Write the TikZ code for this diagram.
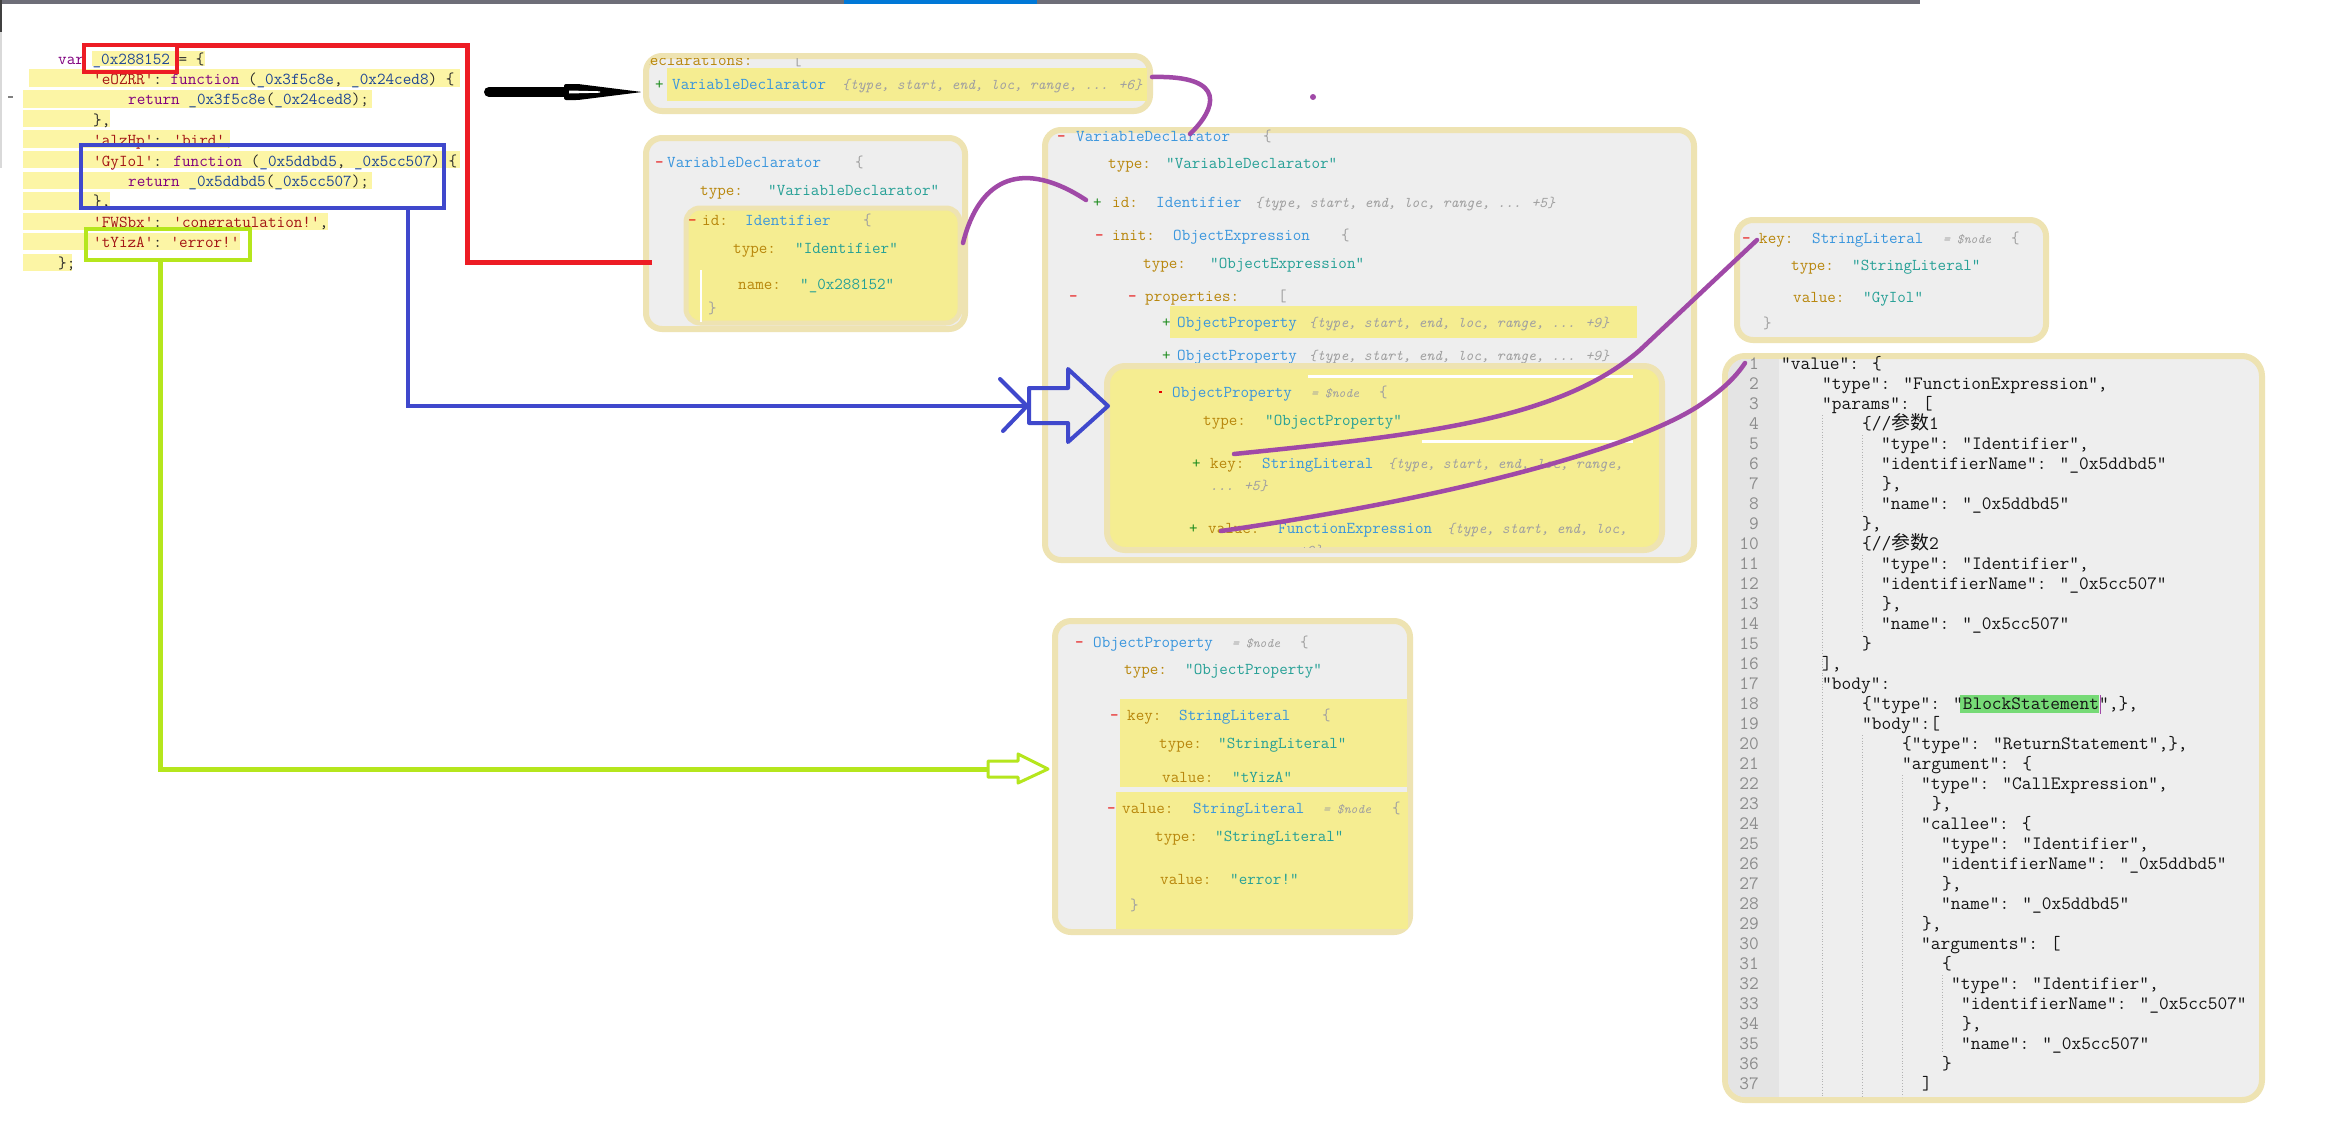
\documentclass[tikz,border=0pt]{standalone}
\usepackage{fontspec}
\setmainfont{Liberation Sans}
\newcommand\cf{\ttfamily}
\newfontfamily\cjk{Noto Sans CJK SC}
\usetikzlibrary{calc}
\definecolor{khaki}{RGB}{238,227,178}
\definecolor{boxg}{RGB}{238,238,238}
\definecolor{hly}{RGB}{245,237,145}
\definecolor{hlc}{RGB}{252,245,165}
\definecolor{goldk}{RGB}{184,134,11}
\definecolor{bluet}{RGB}{58,150,221}
\definecolor{tealt}{RGB}{38,160,150}
\definecolor{grayt}{RGB}{160,160,160}
\definecolor{redm}{RGB}{230,0,0}
\definecolor{greenp}{RGB}{30,140,30}
\definecolor{kwc}{RGB}{128,0,128}
\definecolor{idc}{RGB}{30,70,150}
\definecolor{strc}{RGB}{163,21,21}
\definecolor{punc}{RGB}{40,40,40}
\definecolor{redl}{RGB}{237,28,36}
\definecolor{bluel}{RGB}{63,72,204}
\definecolor{greenl}{RGB}{181,230,29}
\definecolor{purl}{RGB}{160,73,167}
\definecolor{gutter}{RGB}{228,228,228}
\definecolor{lnumc}{RGB}{140,140,140}
\definecolor{bsg}{RGB}{118,218,118}
\definecolor{topbar}{RGB}{110,110,120}
\definecolor{topblue}{RGB}{0,120,215}
\definecolor{codec}{RGB}{20,20,20}
\newcounter{tn}
\newcommand\kw[1]{\textcolor{kwc}{#1}}
\newcommand\idn[1]{\textcolor{idc}{#1}}
\newcommand\strg[1]{\textcolor{strc}{#1}}
\newcommand\tx[5]{\stepcounter{tn}\node[#1,text=#2] (t\arabic{tn}) at ({#3},{#4}) {#5};}
\newcommand\rl[3]{\tx{rcode}{codec}{#2}{369+20*(#1-1)}{#3}\tx{lnum}{lnumc}{1759}{369+20*(#1-1)}{#1}}
\tikzset{
 ast/.style={anchor=base west, inner sep=0pt, font=\fontsize{16.6}{19}\selectfont\cf},
 ita/.style={anchor=base west, inner sep=0pt, font=\fontsize{14.9}{17}\selectfont\cf\itshape},
 sml/.style={anchor=base west, inner sep=0pt, font=\fontsize{13.1}{15}\selectfont\cf\itshape},
 lcode/.style={anchor=base west, inner sep=0pt, font=\fontsize{16.7}{19}\selectfont\cf},
 rcode/.style={anchor=base west, inner sep=0pt, font=\fontsize{18.9}{21}\selectfont\cf},
 lnum/.style={anchor=base east, inner sep=0pt, font=\fontsize{18.9}{21}\selectfont\cf},
 graybox/.style={rectangle, rounded corners=16pt, fill=boxg, draw=khaki, line width=6pt, inner sep=0pt, outer sep=0pt},
 yelbox/.style={rectangle, rounded corners=14pt, fill=hly, draw=khaki, line width=5pt, inner sep=0pt, outer sep=0pt},
 markbox/.style={rectangle, inner sep=0pt, outer sep=0pt},
 purline/.style={purl, line width=4.5pt, line cap=round},
 guide/.style={black!30, line width=0.8pt, dotted}
}
\begin{document}
\begin{tikzpicture}[x=1pt,y=-1pt]
\useasboundingbox (0,0) rectangle (2333,1136);
\fill[white] (0,0) rectangle (2333,1136);
% top strip
\fill[topbar] (0,0) rectangle (1920,4);
\fill[topblue] (844,0) rectangle (1037,4);
\fill[black!75] (0,0) rectangle (2,32);
\draw[black!15, line width=1.5pt] (1,32) -- (1,168);
\draw[black!50, line width=1.5pt] (8,97) -- (13,97);

% ---------- left source code ----------
\foreach \a/\b/\c/\d in {92/51/205/66, 29/69/460/87, 23/90/372/108, 23/110/110/127, 23/130/230/148, 23/151/460/168, 23/172/372/189, 23/192/110/210, 23/213/328/230, 23/233/240/250, 23/254/72/271}
  \fill[hlc] (\a,\b) rectangle (\c,\d);
\tx{lcode}{punc}{58}{64}{\kw{var} \idn{\_0x288152} = \{}
\tx{lcode}{punc}{93}{84.4}{\strg{'eOZRR'}: \kw{function} (\idn{\_0x3f5c8e}, \idn{\_0x24ced8}) \{}
\tx{lcode}{punc}{128}{104.8}{\kw{return} \idn{\_0x3f5c8e}(\idn{\_0x24ced8});}
\tx{lcode}{punc}{93}{125.2}{\},}
\tx{lcode}{punc}{93}{145.6}{\strg{'alzHp'}: \strg{'bird'},}
\tx{lcode}{punc}{93}{166}{\strg{'GyIol'}: \kw{function} (\idn{\_0x5ddbd5}, \idn{\_0x5cc507}) \{}
\tx{lcode}{punc}{128}{186.4}{\kw{return} \idn{\_0x5ddbd5}(\idn{\_0x5cc507});}
\tx{lcode}{punc}{93}{206.8}{\},}
\tx{lcode}{punc}{93}{227.2}{\strg{'FWSbx'}: \strg{'congratulation!'},}
\tx{lcode}{punc}{93}{247.6}{\strg{'tYizA'}: \strg{'error!'}}
\tx{lcode}{punc}{58}{268}{\};}

\node[markbox, draw=redl, line width=4.5pt, minimum width=93pt, minimum height=27pt] (rbox) at (130.5,58.5) {};
\node[markbox, draw=bluel, line width=4pt, minimum width=363pt, minimum height=63pt] (bbox) at (262.5,176.5) {};
\node[markbox, draw=greenl, line width=4pt, minimum width=164pt, minimum height=31pt] (gbox) at (168,244.5) {};

% ---------- declarations box ----------
\node[graybox, minimum width=504pt, minimum height=55pt] (declbox) at (898,83.5) {};
\begin{scope}
\clip (649,58) rectangle (1147,108);
\tx{ast}{goldk}{641}{65}{declarations:}
\tx{ast}{grayt}{793}{65}{[}
\end{scope}
\fill[hly] (667,68) rectangle (1147,101);
\tx{ast}{greenp}{655}{89}{+}
\tx{ast}{bluet}{672}{89}{VariableDeclarator}
\tx{ita}{grayt}{842}{89}{\{type, start, end, loc, range, ... +6\}}

% ---------- VariableDeclarator (left) ----------
\node[graybox, minimum width=319pt, minimum height=191pt] (vdbox) at (805.5,233.5) {};
\tx{ast}{redm}{655}{167}{-}
\tx{ast}{bluet}{667}{167}{VariableDeclarator}
\tx{ast}{grayt}{855}{167}{\{}
\tx{ast}{goldk}{700}{195}{type:}
\tx{ast}{tealt}{768}{195}{"VariableDeclarator"}
\node[yelbox, minimum width=274pt, minimum height=115pt] (idbox) at (823,265.5) {};
\tx{ast}{redm}{688}{225}{-}
\tx{ast}{goldk}{702}{225}{id:}
\tx{ast}{bluet}{745}{225}{Identifier}
\tx{ast}{grayt}{863}{225}{\{}
\tx{ast}{goldk}{733}{253}{type:}
\tx{ast}{tealt}{795}{253}{"Identifier"}
\draw[white, line width=2.5pt] (701,270) -- (701,322);
\tx{ast}{goldk}{738}{289}{name:}
\tx{ast}{tealt}{800}{289}{"\_0x288152"}
\tx{ast}{grayt}{708}{313}{\}}

% ---------- main VariableDeclarator box ----------
\node[graybox, minimum width=649pt, minimum height=430pt] (mainbox) at (1369.5,345) {};
\tx{ast}{redm}{1057}{141}{-}
\tx{ast}{bluet}{1076}{141}{VariableDeclarator}
\tx{ast}{grayt}{1263}{141}{\{}
\tx{ast}{goldk}{1108}{168}{type:}
\tx{ast}{tealt}{1166}{168}{"VariableDeclarator"}
\tx{ast}{greenp}{1093}{207}{+}
\tx{ast}{goldk}{1112}{207}{id:}
\tx{ast}{bluet}{1156}{207}{Identifier}
\tx{ita}{grayt}{1255}{207}{\{type, start, end, loc, range, ... +5\}}
\tx{ast}{redm}{1095}{240}{-}
\tx{ast}{goldk}{1112}{240}{init:}
\tx{ast}{bluet}{1173}{240}{ObjectExpression}
\tx{ast}{grayt}{1341}{240}{\{}
\tx{ast}{goldk}{1143}{268}{type:}
\tx{ast}{tealt}{1210}{268}{"ObjectExpression"}
\tx{ast}{redm}{1069}{301}{-}
\tx{ast}{redm}{1128}{301}{-}
\tx{ast}{goldk}{1145}{301}{properties:}
\tx{ast}{grayt}{1278}{301}{[}
\fill[hly] (1170,306) rectangle (1637,338);
\tx{ast}{greenp}{1162}{327}{+}
\tx{ast}{bluet}{1177}{327}{ObjectProperty}
\tx{ita}{grayt}{1309}{327}{\{type, start, end, loc, range, ... +9\}}
\tx{ast}{greenp}{1162}{360}{+}
\tx{ast}{bluet}{1177}{360}{ObjectProperty}
\tx{ita}{grayt}{1309}{360}{\{type, start, end, loc, range, ... +9\}}
\node[yelbox, rounded corners=18pt, line width=6pt, minimum width=555pt, minimum height=184pt] (opbox) at (1384.5,458) {};
\draw[white, line width=3pt] (1308,376) -- (1633,376);
\draw[white, line width=3pt] (1422,441) -- (1633,441);
\fill[redm] (1159,391) rectangle (1162,393);
\tx{ast}{bluet}{1172}{397}{ObjectProperty}
\tx{sml}{grayt}{1311}{397}{= \$node}
\tx{ast}{grayt}{1379}{397}{\{}
\tx{ast}{goldk}{1203}{425}{type:}
\tx{ast}{tealt}{1265}{425}{"ObjectProperty"}
\tx{ast}{greenp}{1192}{468}{+}
\tx{ast}{goldk}{1210}{468}{key:}
\tx{ast}{bluet}{1262}{468}{StringLiteral}
\tx{ita}{grayt}{1388}{468}{\{type, start, end, loc, range,}
\tx{ita}{grayt}{1210}{490}{... +5\}}
\tx{ast}{greenp}{1189}{533}{+}
\tx{ast}{goldk}{1208}{533}{value:}
\tx{ast}{bluet}{1278}{533}{FunctionExpression}
\tx{ita}{grayt}{1447}{533}{\{type, start, end, loc,}
\begin{scope}
\clip (1100,360) rectangle (1670,547);
\tx{ita}{grayt}{1210}{555}{range, ... +9\}}
\end{scope}

% ---------- key box (right top) ----------
\node[graybox, minimum width=309pt, minimum height=120pt] (keybox) at (1891.5,280) {};
\tx{ast}{redm}{1742}{243}{-}
\tx{ast}{goldk}{1759}{243}{key:}
\tx{ast}{bluet}{1812}{243}{StringLiteral}
\tx{sml}{grayt}{1943}{243}{= \$node}
\tx{ast}{grayt}{2011}{243}{\{}
\tx{ast}{goldk}{1791}{270}{type:}
\tx{ast}{tealt}{1852}{270}{"StringLiteral"}
\tx{ast}{goldk}{1793}{302}{value:}
\tx{ast}{tealt}{1863}{302}{"GyIol"}
\tx{ast}{grayt}{1763}{328}{\}}

% ---------- JSON code box ----------
\node[graybox, rounded corners=20pt, minimum width=537pt, minimum height=744pt] (codebox) at (1993.5,728) {};
\begin{scope}
\clip[rounded corners=17pt] (1728,359) rectangle (2259,1097);
\fill[gutter] (1728,359) rectangle (1779,1097);
\end{scope}
\draw[guide] (1822,415) -- (1822,1097);
\draw[guide] (1862,435) -- (1862,513);
\draw[guide] (1862,555) -- (1862,633);
\draw[guide] (1862,735) -- (1862,1097);
\draw[guide] (1902,775) -- (1902,1097);
\draw[guide] (1942,975) -- (1942,1053);
\fill[bsg] (1960,695) rectangle (2099,713);
\draw[purl, line width=1pt] (2100,695) -- (2100,714);
\rl{1}{1781}{"value": \{}
\rl{2}{1822}{"type": "FunctionExpression",}
\rl{3}{1822}{"params": [}
\rl{4}{1862}{\{//{\cjk 参数}1}
\rl{5}{1881}{"type": "Identifier",}
\rl{6}{1881}{"identifierName": "\_0x5ddbd5"}
\rl{7}{1882}{\},}
\rl{8}{1881}{"name": "\_0x5ddbd5"}
\rl{9}{1862}{\},}
\rl{10}{1862}{\{//{\cjk 参数}2}
\rl{11}{1881}{"type": "Identifier",}
\rl{12}{1881}{"identifierName": "\_0x5cc507"}
\rl{13}{1882}{\},}
\rl{14}{1881}{"name": "\_0x5cc507"}
\rl{15}{1862}{\}}
\rl{16}{1822}{],}
\rl{17}{1822}{"body":}
\rl{18}{1862}{\{"type": "BlockStatement",\},}
\rl{19}{1862}{"body":[}
\rl{20}{1902}{\{"type": "ReturnStatement",\},}
\rl{21}{1902}{"argument": \{}
\rl{22}{1921}{"type": "CallExpression",}
\rl{23}{1932}{\},}
\rl{24}{1921}{"callee": \{}
\rl{25}{1941}{"type": "Identifier",}
\rl{26}{1941}{"identifierName": "\_0x5ddbd5"}
\rl{27}{1942}{\},}
\rl{28}{1941}{"name": "\_0x5ddbd5"}
\rl{29}{1922}{\},}
\rl{30}{1921}{"arguments": [}
\rl{31}{1942}{\{}
\rl{32}{1951}{"type": "Identifier",}
\rl{33}{1961}{"identifierName": "\_0x5cc507"}
\rl{34}{1962}{\},}
\rl{35}{1961}{"name": "\_0x5cc507"}
\rl{36}{1942}{\}}
\rl{37}{1922}{]}

% ---------- bottom ObjectProperty box ----------
\node[graybox, minimum width=355pt, minimum height=311pt] (op2box) at (1232.5,776.5) {};
\tx{ast}{redm}{1075}{647}{-}
\tx{ast}{bluet}{1093}{647}{ObjectProperty}
\tx{sml}{grayt}{1232}{647}{= \$node}
\tx{ast}{grayt}{1300}{647}{\{}
\tx{ast}{goldk}{1124}{674}{type:}
\tx{ast}{tealt}{1185}{674}{"ObjectProperty"}
\fill[hly] (1120,699) rectangle (1407,787);
\tx{ast}{redm}{1110}{720}{-}
\tx{ast}{goldk}{1127}{720}{key:}
\tx{ast}{bluet}{1179}{720}{StringLiteral}
\tx{ast}{grayt}{1322}{720}{\{}
\tx{ast}{goldk}{1159}{748}{type:}
\tx{ast}{tealt}{1218}{748}{"StringLiteral"}
\tx{ast}{goldk}{1162}{782}{value:}
\tx{ast}{tealt}{1232}{782}{"tYizA"}
\fill[hly] (1116,792) rectangle (1408,929);
\tx{ast}{redm}{1107}{813}{-}
\tx{ast}{goldk}{1122}{813}{value:}
\tx{ast}{bluet}{1193}{813}{StringLiteral}
\tx{sml}{grayt}{1323}{813}{= \$node}
\tx{ast}{grayt}{1392}{813}{\{}
\tx{ast}{goldk}{1155}{841}{type:}
\tx{ast}{tealt}{1215}{841}{"StringLiteral"}
\tx{ast}{goldk}{1160}{884}{value:}
\tx{ast}{tealt}{1230}{884}{"error!"}
\tx{ast}{grayt}{1130}{910}{\}}

% ---------- connectors ----------
% black arrow
\coordinate (bk0) at (489,92);
\coordinate (bk1) at (566,92);
\coordinate (bkT) at (642,92);
\draw[black, line width=10pt, line cap=round] (bk0) -- (bk1);
\fill[black, rounded corners=2pt] (564,84) -- (578,84) -- (bkT) -- (578,100) -- (564,100) -- cycle;
\fill[white] (569,90.5) -- (600,91.3) -- (600,92.7) -- (569,93.5) -- cycle;

% red
\coordinate (r1) at (467,45);
\coordinate (r2) at (467,262);
\coordinate (rE) at (652,262);
\draw[redl, line width=5pt, line join=miter] (rbox.north east) -- (r1) -- (r2) -- (rE);

% blue
\coordinate (b1) at (408,406);
\coordinate (bE) at (1027,406);
\draw[bluel, line width=4pt, line join=miter] (bbox.south -| b1) -- (b1) -- (bE);
\draw[bluel, line width=4pt, line cap=round] (1000,379) -- (bE) -- (1003,431);
\draw[bluel, line width=4pt, line join=round] (1029,388) -- (1068,388) -- (1068,369) -- (1108,406) -- (1068,442) -- (1068,423) -- (1029,423) -- cycle;

% green
\coordinate (g1) at (160,769);
\coordinate (gE) at (988,769);
\draw[greenl, line width=5pt, line join=miter] (gbox.south -| g1) -- (g1) -- (gE);
\draw[greenl, line width=3pt, line join=round] (988,761) -- (1018,761) -- (1018,754) -- (1048,769) -- (1018,783) -- (1018,777) -- (988,777) -- cycle;

% purple
\coordinate (pa0) at (1152,77);
\coordinate (pa1) at (1190,134);
\draw[purline] (pa0) .. controls (1230,75) and (1215,110) .. (pa1);
\coordinate (pb0) at (963,243);
\coordinate (pb1) at (1086,200);
\draw[purline] (pb0) .. controls (980,175) and (1025,160) .. (pb1);
\coordinate (pc0) at (1234,454);
\coordinate (pcm) at (1640,350);
\coordinate (pc1) at (1757,240);
\draw[purline] (pc0) .. controls (1420,435) and (1560,420) .. (pcm) -- (pc1);
\coordinate (pd0) at (1221,531);
\coordinate (pdm) at (1700,405);
\coordinate (pd1) at (1745,363);
\draw[purline] (pd0) .. controls (1470,495) and (1640,445) .. (pdm) .. controls (1722,390) and (1735,378) .. (pd1);
\fill[purl] (1313,97) circle (3pt);
\end{tikzpicture}
\end{document}
